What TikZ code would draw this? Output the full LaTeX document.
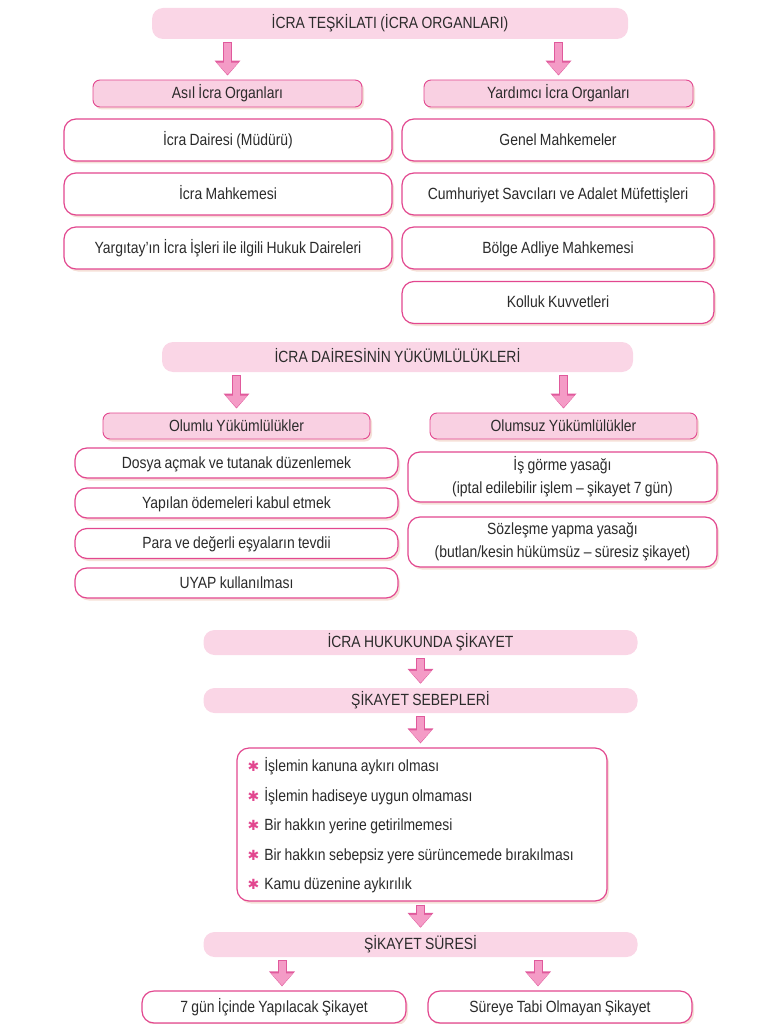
\documentclass[tikz,border=0pt]{standalone}
\usepackage{fontspec}
\setmainfont{Liberation Sans}[FakeStretch=0.86,WordSpace=0.86]
\newfontfamily\symfont{DejaVu Sans}
\usetikzlibrary{arrows.meta,shadows}
\definecolor{hdrpink}{HTML}{FAD6E6}
\definecolor{subpink}{HTML}{F9D0E2}
\definecolor{edgepink}{HTML}{E2478F}
\definecolor{arrowpink}{HTML}{F49BC6}
\definecolor{arrowedge}{HTML}{E05A9C}
\definecolor{shadowpeach}{HTML}{F3D8CE}
\definecolor{txt}{HTML}{2B2B2B}
\newcommand{\bul}{{\symfont\fontsize{14}{14}\selectfont\textcolor{edgepink}{✱}}\hspace{5pt}}
\begin{document}
\begin{tikzpicture}[x=1pt,y=-1pt,
  every node/.style={text=txt,font=\fontsize{16.2}{19}\selectfont},
  oneline/.style={text height=13pt,text depth=2.5pt},
  headbox/.style={fill=hdrpink,rounded corners=11pt,inner sep=0pt,oneline},
  subbox/.style={fill=subpink,draw=edgepink,line width=0.9pt,rounded corners=7pt,
    minimum width=269pt,minimum height=27pt,inner sep=0pt,oneline,
    drop shadow={fill=shadowpeach,opacity=0.8,shadow xshift=2pt,shadow yshift=-2.5pt}},
  itembox/.style={fill=white,draw=edgepink,line width=1.2pt,rounded corners=12pt,
    inner sep=0pt,align=center,oneline,
    drop shadow={fill=shadowpeach,opacity=0.8,shadow xshift=2pt,shadow yshift=-2.5pt}},
  twoline/.style={text height={},text depth={},font=\fontsize{16.2}{23}\selectfont},
  flow/.style={draw=arrowpink,line width=7pt,-{Triangle[width=21pt,length=12pt]},
    shorten <=4pt,shorten >=5pt,
    preaction={draw=arrowedge,line width=9pt,-{Triangle[width=25pt,length=15pt]},
      shorten <=3pt,shorten >=4pt}}]
\useasboundingbox (0,0) rectangle (768,1024);

\node[headbox,minimum width=476pt,minimum height=31pt] (teskilat) at (390,23.5) {İCRA TEŞKİLATI (İCRA ORGANLARI)};
\node[subbox] (asil) at (227.5,93.5) {Asıl İcra Organları};
\node[subbox] (yardimci) at (558.5,93.5) {Yardımcı İcra Organları};
\node[itembox,minimum width=328pt,minimum height=42pt] (daire) at (228,140) {İcra Dairesi (Müdürü)};
\node[itembox,minimum width=328pt,minimum height=42pt] (mahkeme) at (228,194) {İcra Mahkemesi};
\node[itembox,minimum width=328pt,minimum height=42pt] (yargitay) at (228,248) {Yargıtay’ın İcra İşleri ile ilgili Hukuk Daireleri};
\node[itembox,minimum width=312pt,minimum height=42pt] (genel) at (558,140) {Genel Mahkemeler};
\node[itembox,minimum width=312pt,minimum height=42pt] (savci) at (558,194) {Cumhuriyet Savcıları ve Adalet Müfettişleri};
\node[itembox,minimum width=312pt,minimum height=42pt] (bolge) at (558,248) {Bölge Adliye Mahkemesi};
\node[itembox,minimum width=312pt,minimum height=42pt] (kolluk) at (558,302.5) {Kolluk Kuvvetleri};
\draw[flow] (teskilat.south -| asil.north) -- (asil.north);
\draw[flow] (teskilat.south -| yardimci.north) -- (yardimci.north);

\node[headbox,minimum width=471pt,minimum height=30pt] (yukum) at (397.5,357) {İCRA DAİRESİNİN YÜKÜMLÜLÜKLERİ};
\node[subbox,minimum width=267pt,minimum height=26pt] (olumlu) at (236.5,426) {Olumlu Yükümlülükler};
\node[subbox,minimum width=267pt,minimum height=26pt] (olumsuz) at (563.5,426) {Olumsuz Yükümlülükler};
\node[itembox,minimum width=323pt,minimum height=30pt] (dosya) at (236.5,463) {Dosya açmak ve tutanak düzenlemek};
\node[itembox,minimum width=323pt,minimum height=30pt] (odeme) at (236.5,503) {Yapılan ödemeleri kabul etmek};
\node[itembox,minimum width=323pt,minimum height=30pt] (tevdi) at (236.5,543.5) {Para ve değerli eşyaların tevdii};
\node[itembox,minimum width=323pt,minimum height=30pt] (uyap) at (236.5,583) {UYAP kullanılması};
\node[itembox,twoline,minimum width=309pt,minimum height=50pt] (isgorme) at (562.5,477) {İş görme yasağı\\(iptal edilebilir işlem – şikayet 7 gün)};
\node[itembox,twoline,minimum width=309pt,minimum height=50pt] (sozlesme) at (562.5,542) {Sözleşme yapma yasağı\\(butlan/kesin hükümsüz – süresiz şikayet)};
\draw[flow] (yukum.south -| olumlu.north) -- (olumlu.north);
\draw[flow] (yukum.south -| olumsuz.north) -- (olumsuz.north);

\node[headbox,minimum width=434pt,minimum height=25pt] (sikayet) at (420.5,642.5) {İCRA HUKUKUNDA ŞİKAYET};
\node[headbox,minimum width=434pt,minimum height=25pt] (sebepler) at (420.5,700.5) {ŞİKAYET SEBEPLERİ};
\node[itembox,minimum width=370pt,minimum height=153pt] (liste) at (422,824.5) {};
\node[anchor=west,align=left,inner sep=0pt,font=\fontsize{16.2}{29.5}\selectfont]
  (sebeplist) at ([xshift=11pt,yshift=-1pt]liste.west)
  {\bul İşlemin kanuna aykırı olması\\
   \bul İşlemin hadiseye uygun olmaması\\
   \bul Bir hakkın yerine getirilmemesi\\
   \bul Bir hakkın sebepsiz yere sürüncemede bırakılması\\
   \bul Kamu düzenine aykırılık};
\node[headbox,minimum width=434pt,minimum height=25pt] (sure) at (420.5,944.5) {ŞİKAYET SÜRESİ};
\node[itembox,minimum width=264pt,minimum height=32pt] (yedigun) at (274,1007) {7 gün İçinde Yapılacak Şikayet};
\node[itembox,minimum width=264pt,minimum height=32pt] (suresiz) at (560,1007) {Süreye Tabi Olmayan Şikayet};
\draw[flow] (sikayet.south) -- (sebepler.north);
\draw[flow] (sebepler.south) -- (sebepler.south |- liste.north);
\draw[flow] (liste.south -| sure.north) -- (sure.north);
\draw[flow] ([xshift=8pt]yedigun.north |- sure.south) -- ([xshift=8pt]yedigun.north);
\draw[flow] ([xshift=-22pt]suresiz.north |- sure.south) -- ([xshift=-22pt]suresiz.north);
\end{tikzpicture}
\end{document}
